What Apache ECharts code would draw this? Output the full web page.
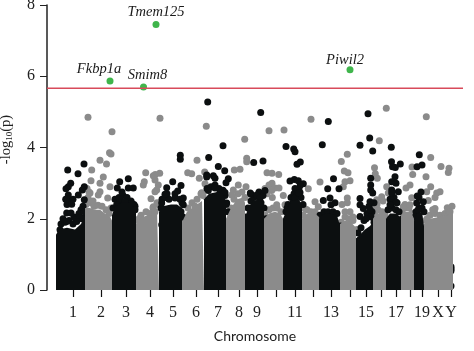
<!DOCTYPE html>
<html>
<head>
<meta charset="utf-8">
<style>html,body{margin:0;padding:0;background:#fff}#chart{width:474px;height:351px}</style>
<script src="https://cdn.jsdelivr.net/npm/echarts@6/dist/echarts.min.js"></script>
</head>
<body>
<div id="chart"></div>
<script>
// genome position is in arbitrary units along the x axis
var chromTicks = [26,54,79,103,126,149,171,192,210,229,248,266,284,303,319,334,349,363,375,391,404];
var chromNames = ['1','2','3','4','5','6','7','8','9','10','11','12','13','14','15','16','17','18','19','X','Y'];
var chromLabelled = ['1','2','3','4','5','6','7','8','9','11','13','15','17','19','X','Y'];
var threshold = 5.66;

// top outline of the dense low-value mass of each chromosome
var blackMass = [
	[[9,1.55],[12,1.7],[20,1.75],[28,1.7],[34,1.85],[38,2.1]],
	[[65,2.1],[68,2.35],[74,2.45],[82,2.45],[86,2.35],[89,2.2]],
	[[112,2.2],[116,2.35],[124,2.4],[130,2.4],[135,2.3]],
	[[157,2.55],[162,2.7],[170,2.75],[176,2.7],[179,2.5]],
	[[198,2.0],[201,2.3],[206,2.5],[212,2.55],[217,2.45]],
	[[236,2.0],[239,2.2],[244,2.5],[252,2.55],[255,2.35]],
	[[272,2.0],[275,2.1],[282,2.15],[290,2.1],[293,1.8]],
	[[309,1.45],[313,1.55],[318,1.7],[323,1.8],[326,1.9]],
	[[339,2.0],[343,2.15],[350,2.15],[354,2.0]],
	[[367,1.95],[370,2.15],[375,2.2],[377,1.8]]
];
var greyMass = [
	[[38,2.3],[43,2.3],[48,2.25],[53,2.25],[58,2.15],[63,2.05],[65,1.95]],
	[[89,1.85],[93,2.0],[100,2.1],[105,2.1],[110,2.25],[112,2.25]],
	[[135,1.9],[140,2.2],[150,2.4],[155,2.5],[157,2.5]],
	[[179,2.0],[184,2.3],[190,2.55],[196,2.6],[198,2.45]],
	[[217,2.0],[222,2.15],[228,2.2],[233,2.15],[236,2.0]],
	[[255,2.0],[260,2.15],[268,2.15],[272,2.05],[273,1.95]],
	[[293,1.85],[298,1.95],[304,1.9],[309,1.75]],
	[[326,2.0],[330,2.15],[335,2.15],[339,2.05]],
	[[354,2.1],[358,2.2],[364,2.2],[367,2.0]],
	[[377,1.85],[383,2.0],[392,2.05],[400,2.1],[406,2.2]]
];

var greyPoints = [
	[41,4.85],[65,4.44],[62.5,3.85],[64,3.82],[53,3.64],[59.5,3.54],[44.7,3.37],[44,3.07],[56.3,3.17],[53,3.0],
	[53,2.76],[63,2.9],[60.7,2.58],[43,2.72],[51.3,2.67],[64,2.3],[98.7,3.29],[97.3,3.04],[96.3,2.95],[106.3,3.21],
	[112.7,3.28],[108.3,3.24],[104,2.56],[108,2.76],[106.3,2.34],[113,4.82],[150,3.64],[140.7,3.29],[144.7,3.26],[157.7,3.31],
	[159.3,4.6],[197.7,4.23],[199.7,3.7],[187.3,3.37],[193,3.39],[152.3,3.14],[158,2.98],[191.3,2.95],[199,2.9],[186.3,2.81],
	[154.7,2.73],[184.7,2.67],[109.7,2.81],[108,3.09],[111.3,2.95],[199.7,3.6],[222,4.47],[237,4.49],[264,4.79],[339.3,5.1],
	[379.3,4.86],[332.3,4.19],[300.3,3.81],[294.3,3.61],[383.7,3.72],[394,3.47],[402,3.42],[401.3,3.3],[365,3.45],[327.5,3.43],
	[297.3,3.34],[301,3.29],[220,3.29],[225,3.28],[231.7,3.24],[328.3,3.26],[365.7,3.24],[298,3.04],[303,3.07],[296.3,2.9],
	[273,3.03],[261.3,2.84],[228,2.86],[232,2.86],[224.7,2.79],[225.3,2.6],[236.3,2.65],[238,2.39],[229.7,2.39],[268,2.48],
	[271.3,2.34],[258,2.28],[300.3,2.58],[300.3,2.45],[298,2.2],[303,2.2],[330.3,3.14],[379,3.18],[363,2.95],[359,2.86],
	[383.7,2.9],[379.7,2.76],[393,2.76],[389.7,2.72],[388,2.6],[339.7,2.9],[341.3,2.72],[364.7,2.59],[381.3,2.51],[334.7,2.62],
	[329.7,2.53],[356.3,2.34],[363,2.39],[388,2.29],[385.7,2.25],[400.3,2.31],[403,2.2]
];
var blackPoints = [
	[37,3.54],[20.7,3.37],[31,3.26],[23.7,3.0],[21.3,2.9],[19,2.84],[37.3,2.9],[35.3,2.81],[31.3,2.67],[21.3,2.67],
	[18.7,2.55],[24.7,2.41],[37.3,2.53],[19.7,2.16],[24,2.16],[37.3,2.2],[33,2.02],[29.7,1.92],[19.7,1.92],[13,1.69],
	[81.3,3.12],[72.7,3.04],[70.3,2.86],[81.3,2.86],[86.3,2.86],[73,2.53],[84.7,2.44],[69.7,2.39],[78,2.48],[88,2.25],
	[133.3,3.78],[133.3,3.67],[161.7,3.72],[176,4.05],[160.7,5.28],[171.3,3.47],[177.7,3.35],[159.7,3.23],[166.3,3.21],[125.7,3.04],
	[119.7,2.87],[134,2.93],[130.7,2.78],[118,2.69],[159.7,3.17],[168,3.14],[181.3,3.12],[179,3.01],[161.3,2.79],[168,2.86],
	[173,2.72],[178,2.74],[204,2.69],[209.7,2.67],[136.3,2.58],[128,2.58],[114.7,2.44],[179.7,2.44],[123,2.29],[136.3,2.39],
	[129.7,2.2],[114.7,1.83],[206.3,2.25],[213.7,4.98],[281.3,4.73],[321,4.95],[239,4.03],[246.7,3.96],[248,3.88],[275.3,4.08],
	[313,4.06],[322.7,4.27],[344.3,4.01],[325.7,3.9],[372.3,3.8],[206.7,3.58],[216,3.62],[253.3,3.59],[250,3.53],[344.5,3.6],
	[353.3,3.54],[345.5,3.46],[348.3,3.44],[375,3.51],[370,3.46],[247.3,3.1],[243,3.06],[251.3,3.07],[256.3,2.98],[286.5,3.12],
	[280.7,2.84],[292,2.84],[218,2.79],[253,2.74],[248,2.58],[276.3,2.51],[283,2.58],[288,2.45],[284,2.39],[313,2.57],
	[313,2.39],[316.3,2.29],[244.7,2.34],[239.7,1.92],[348,3.18],[344.7,3.04],[349,3.0],[323.7,3.14],[323.7,2.95],[325.7,2.72],
	[323.7,2.81],[344.7,2.81],[351.3,2.76],[344.7,2.72],[370.3,2.64],[376.3,2.48],[349,2.46],[343,2.39],[369.7,2.44],[371.3,2.25],
	[323,2.48],[313,2.06],[323,2.25],[203.3,2.72],[213,2.58],[206.7,2.11],[201.7,1.88],[251.7,2.72],[253.3,2.95],[241.7,1.92],
	[404,0.65],[404,0.6],[404,0.54],[404,0.11]
];
// clumps sitting on top of the mass
var greyDense = [
	[39,2.4],[41,2.6],[44,2.45],[47,2.35],[51,2.38],[55,2.35],[59,2.25],[62,2.15],[42,2.75],[40,2.85],[46,2.5],
	[91,1.95],[94,2.1],[99,2.2],[103,2.15],[106,2.3],[110,2.45],[112,2.4],[108,2.2],[92,2.0],
	[137,2.0],[141,2.3],[145,2.45],[150,2.55],[154,2.7],[156,2.65],[148,2.35],
	[181,1.9],[184,2.3],[187,2.55],[191,2.7],[195,2.75],[198,2.6],[193,2.45],
	[218,2.1],[222,2.25],[226,2.3],[230,2.3],[234,2.2],[237,1.9],[220,2.7],[222,2.95],[225,3.0],[218,2.85],
	[256,2.1],[260,2.25],[264,2.2],[268,2.2],[272,2.1],
	[294,1.9],[298,2.05],[302,2.0],[306,1.95],[310,1.7],[295,2.4],[306,2.05],
	[328,2.15],[331,2.25],[335,2.2],[338,2.1],[327,2.3],[330,2.4],[336,2.5],
	[355,2.2],[358,2.3],[362,2.3],[365,2.15],[367,1.95],[358,2.4],
	[379,1.95],[383,2.1],[388,2.15],[393,2.1],[398,2.15],[402,2.2],[405,2.35],[380,2.0]
];
var blackDense = [
	[14,1.85],[18,1.9],[22,1.95],[26,1.85],[16,2.0],[27,2.05],[20,2.4],[22,2.5],[26,2.55],[36,2.35],[34,2.25],[32,2.15],[38,2.05],[35,2.0],[31,2.03],[29,1.98],
	[68,2.55],[72,2.6],[76,2.65],[80,2.6],[84,2.5],[87,2.4],[66,2.3],[88,2.35],[72,2.4],[75,2.75],
	[115,2.55],[118,2.6],[122,2.55],[128,2.7],[133,2.55],[135,2.45],[120,2.7],[114,2.3],[134,2.2],[136,2.05],[136,1.75],[137,1.5],
	[160,2.85],[164,2.9],[168,2.95],[172,2.85],[176,2.8],[178,2.65],[181,2.2],[180,1.9],[179,2.4],
	[201,2.3],[204,2.5],[207,2.6],[212,2.75],[216,2.65],[214,2.45],[217,2.3],[199,2.05],[219,2.0],
	[239,2.2],[241,2.4],[244,2.6],[247,2.7],[250,2.65],[254,2.6],[256,2.4],[252,2.85],[248,2.85],[246,2.45],[237,1.9],[240,2.3],
	[273,2.1],[277,2.2],[281,2.2],[286,2.2],[290,2.15],[293,1.8],[294,1.5],[273,1.7],
	[311,1.6],[314,1.75],[317,1.95],[320,2.15],[322,2.35],[325,2.2],[327,2.45],[324,2.05],[327,1.9],[319,2.0],
	[341,2.25],[345,2.3],[349,2.25],[352,2.2],[355,2.0],[343,2.55],[347,2.6],[345,2.45],[350,2.45],
	[369,2.2],[372,2.3],[375,2.3],[377,2.2],[372,2.6],[374,2.75],[368,2.05],[378,1.6]
];

var geneNames = ['Tmem125','Fkbp1a','Smim8','Piwil2'];
var genePoints = [[109,7.45],[63,5.87],[96.5,5.70],[303,6.18]];
var geneLabelShift = [[0,-1],[-11,-1],[4,-1],[-5,1]];

var BLACK = '#0c0f10', GREY = '#8b8b8b', GREEN = '#3fb54b', RED = '#d84a5a';
var SERIF = '"Liberation Serif"';

function massSeries(outline, color)
{
	return {
		type: 'line', data: outline, symbol: 'none', silent: true, animation: false,
		lineStyle: {width: 0}, areaStyle: {color: color, opacity: 1}, itemStyle: {color: color}
	};
}
function dotSeries(points, color)
{
	return {
		type: 'scatter', data: points, symbolSize: 7, silent: true, animation: false,
		itemStyle: {color: color, opacity: 1}
	};
}

var series = [];
greyMass.forEach(function(o){ series.push(massSeries(o, GREY)); });
series.push(dotSeries(greyDense.concat(greyPoints), GREY));
blackMass.forEach(function(o){ series.push(massSeries(o, BLACK)); });
series.push(dotSeries(blackDense.concat(blackPoints), BLACK));
// significance threshold
series.push({
	type: 'line', data: [[0,threshold],[416,threshold]], symbol: 'none', silent: true, animation: false,
	lineStyle: {color: RED, width: 1.5}
});
// named genes
series.push({
	type: 'scatter', symbolSize: 7, silent: true, animation: false, itemStyle: {color: GREEN, opacity: 1},
	data: genePoints.map(function(p, i){
		return {
			value: p,
			label: {
				show: true, position: 'top', formatter: geneNames[i], offset: geneLabelShift[i],
				fontFamily: SERIF, fontStyle: 'italic', fontSize: 14.5, color: '#1a1a1a', distance: 0
			}
		};
	})
});

var labelledTicks = chromLabelled.map(function(n){ return chromTicks[chromNames.indexOf(n)]; });

var chart = echarts.init(document.getElementById('chart'));
chart.setOption({
	backgroundColor: '#fff',
	animation: false,
	grid: {left: 47, top: 5, width: 416, height: 285, outerBoundsMode: 'none'},
	xAxis: {
		type: 'value', min: 0, max: 416,
		name: 'Chromosome', nameLocation: 'middle', nameGap: 39,
		nameTextStyle: {fontFamily: 'Lato', fontSize: 14, color: '#222'},
		splitLine: {show: false},
		// transparent line: the reference has ticks along the bottom but no rule
		axisLine: {show: true, onZero: false, lineStyle: {color: 'rgba(0,0,0,0)'}},
		axisTick: {show: true, inside: false, length: 7, customValues: chromTicks, lineStyle: {color: '#111', width: 1.2}},
		axisLabel: {
			customValues: labelledTicks, margin: 15, fontFamily: SERIF, fontSize: 16, color: '#222',
			hideOverlap: false, showMinLabel: true, showMaxLabel: true,
			formatter: function(v){ return chromNames[chromTicks.indexOf(v)]; }
		}
	},
	yAxis: {
		type: 'value', min: 0, max: 8, interval: 2,
		name: '{a|-log}{b|10}{a|(p)}', nameLocation: 'middle', nameGap: 33, nameRotate: 90,
		nameTextStyle: {padding: [0,0,0,16], rich: {
			a: {fontFamily: SERIF, fontSize: 14.5, color: '#222'},
			b: {fontFamily: SERIF, fontSize: 9, color: '#222', verticalAlign: 'bottom', padding: [6,0,0,0]}
		}},
		splitLine: {show: false},
		axisLine: {show: true, lineStyle: {color: '#222', width: 1.5}},
		axisTick: {show: true, length: 7, lineStyle: {color: '#222', width: 1}},
		axisLabel: {margin: 12, fontFamily: SERIF, fontSize: 16, color: '#222'}
	},
	series: series
});
</script>
</body>
</html>
